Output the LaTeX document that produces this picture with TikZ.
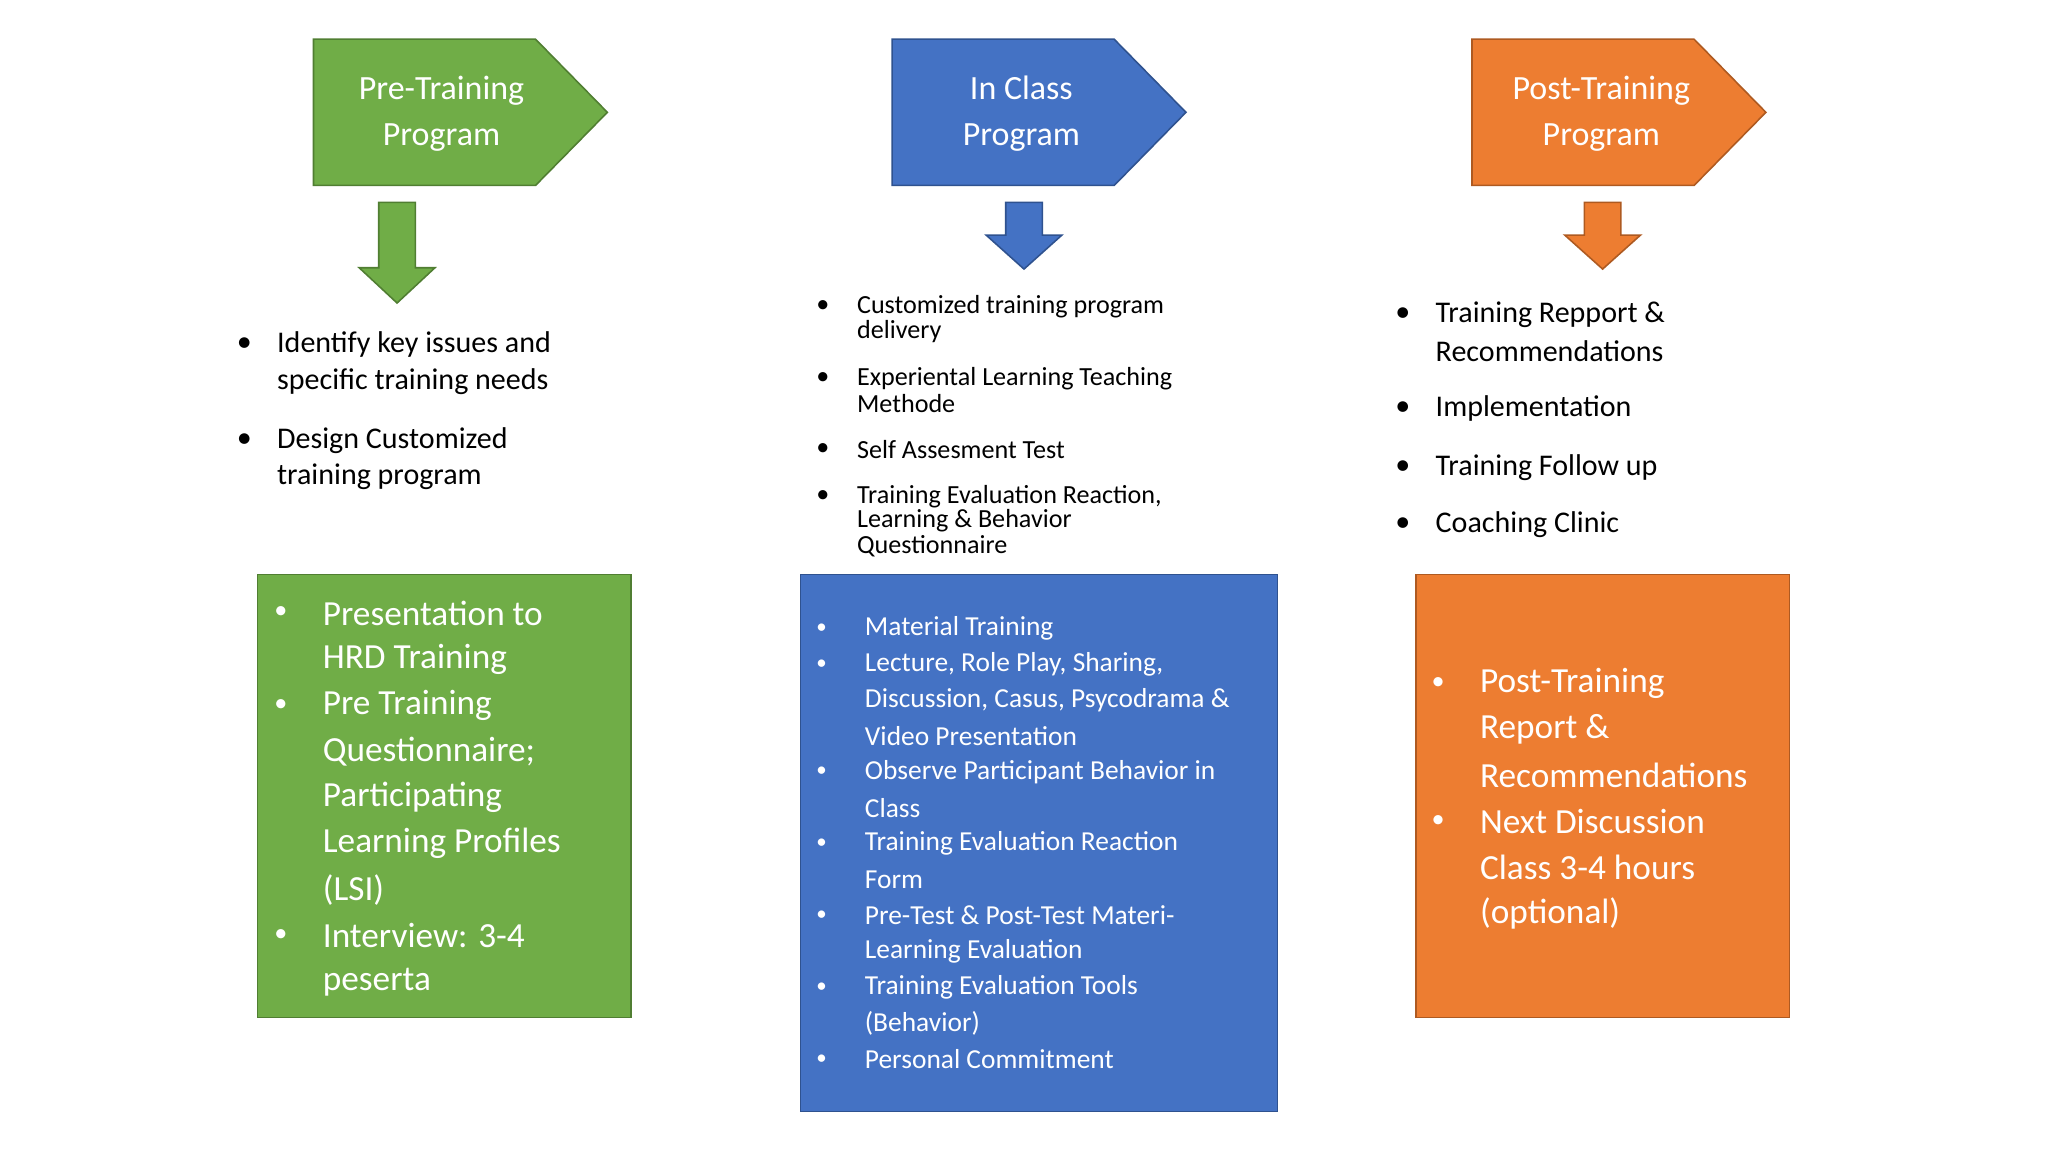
\documentclass[tikz,border=0pt]{standalone}
\usepackage{fontspec}
\setmainfont{Carlito}
\begin{document}
\begin{tikzpicture}[x=1pt,y=-1pt,
  tx/.style={anchor=west,inner sep=0pt},
  hd/.style={white,font=\fontsize{26}{35}\selectfont,align=center,inner sep=0pt},
  bl/.style={anchor=center,inner sep=0pt}]
\useasboundingbox[fill=white] (0,0) rectangle (1568,882);
\definecolor{gF}{HTML}{70AD47}\definecolor{gD}{HTML}{507E32}
\definecolor{bF}{HTML}{4472C4}\definecolor{bD}{HTML}{2F528F}
\definecolor{oF}{HTML}{ED7D31}\definecolor{oD}{HTML}{AE5A21}
% header pentagons
\draw[fill=gF,draw=gD,line width=1.2] (240,30)--(410,30)--(465,86)--(410,142)--(240,142)--cycle;
\draw[fill=bF,draw=bD,line width=1.2] (683,30)--(853,30)--(908,86)--(853,142)--(683,142)--cycle;
\draw[fill=oF,draw=oD,line width=1.2] (1127,30)--(1297,30)--(1352,86)--(1297,142)--(1127,142)--cycle;
\node[hd] (h1) at (338,87) {Pre-Training\\Program};
\node[hd] (h2) at (782,87) {In Class\\Program};
\node[hd] (h3) at (1226,87) {Post-Training\\Program};
% down arrows
\draw[fill=gF,draw=gD,line width=1.2] (290,155)--(318,155)--(318,205)--(333,205)--(304,232)--(275,205)--(290,205)--cycle;
\draw[fill=bF,draw=bD,line width=1.2] (770,155)--(798,155)--(798,180)--(813,180)--(784,206)--(755,180)--(770,180)--cycle;
\draw[fill=oF,draw=oD,line width=1.2] (1213,155)--(1241,155)--(1241,180)--(1256,180)--(1227,206)--(1198,180)--(1213,180)--cycle;
% green list
\begin{scope}[font=\fontsize{23}{28}\selectfont]
\node[bl] (gb1) at (187,264) {•}; \node[bl] (gb2) at (187,337) {•};
\node[tx] (g1) at (212,264) {Identify key issues and};
\node[tx] (g2) at (212,292) {specific training needs};
\node[tx] (g3) at (212,337) {Design Customized};
\node[tx] (g4) at (212,365) {training program};
\end{scope}
% blue list
\begin{scope}[font=\fontsize{20}{20}\selectfont]
\foreach \y/\n in {235/1,290/2,344/3,380/4} \node[bl] (bb\n) at (630,\y) {•};
\node[tx] (b1) at (656,235) {Customized training program};
\node[tx] (b2) at (656,254) {delivery};
\node[tx] (b3) at (656,290) {Experiental Learning Teaching};
\node[tx] (b4) at (656,309) {Methode};
\node[tx] (b5) at (656,344) {Self Assesment Test};
\node[tx] (b6) at (656,380) {Training Evaluation Reaction,};
\node[tx] (b7) at (656,399) {Learning \& Behavior};
\node[tx] (b8) at (656,418) {Questionnaire};
\end{scope}
% orange list
\begin{scope}[font=\fontsize{23}{28}\selectfont]
\foreach \y/\n in {241/1,313/2,358/3,402/4} \node[bl] (ob\n) at (1074,\y) {•};
\node[tx] (o1) at (1099,241) {Training Repport \&};
\node[tx] (o2) at (1099,269) {Recommendations};
\node[tx] (o3) at (1099,313) {Implementation};
\node[tx] (o4) at (1099,358) {Training Follow up};
\node[tx] (o5) at (1099,402) {Coaching Clinic};
\end{scope}
% boxes
\draw[fill=gF,draw=gD,line width=1.2] (197,440) rectangle (483,779);
\draw[fill=bF,draw=bD,line width=1.2] (613,440) rectangle (978,851);
\draw[fill=oF,draw=oD,line width=1.2] (1084,440) rectangle (1370,779);
\begin{scope}[white,font=\fontsize{27}{35}\selectfont]
\foreach \y/\n in {469/1,540/2,716/3} \node[bl,font=\fontsize{20}{20}\selectfont] (gc\n) at (215,\y) {•};
\foreach \t [count=\i] in {Presentation to,HRD Training,Pre Training,Questionnaire;,Participating,Learning Profiles,(LSI),Interview: 3-4,peserta}
  \node[tx] (gl\i) at (247,434+35.3*\i) {\t};
\end{scope}
\begin{scope}[white,font=\fontsize{21}{21}\selectfont]
\foreach \y/\n in {481/1,509/2,591/3,646/4,701/5,756/6,811/7} \node[bl,font=\fontsize{16}{16}\selectfont] (bc\n) at (629,\y) {•};
\foreach \t [count=\i] in {Material Training,{Lecture, Role Play,  Sharing,},{Discussion, Casus, Psycodrama \&},Video Presentation,Observe Participant Behavior in,Class,Training Evaluation Reaction,Form,Pre-Test \& Post-Test  Materi-,Learning Evaluation,Training Evaluation Tools,(Behavior),Personal Commitment}
  \node[tx] (bl\i) at (662,453.5+27.5*\i) {\t};
\end{scope}
\begin{scope}[white,font=\fontsize{27}{35}\selectfont]
\foreach \y/\n in {523/1,629/2} \node[bl,font=\fontsize{20}{20}\selectfont] (oc\n) at (1101,\y) {•};
\foreach \t [count=\i] in {Post-Training,Report \&,Recommendations,Next Discussion,Class 3-4 hours,(optional)}
  \node[tx] (ol\i) at (1133,488+35.2*\i) {\t};
\end{scope}
\end{tikzpicture}
\end{document}
